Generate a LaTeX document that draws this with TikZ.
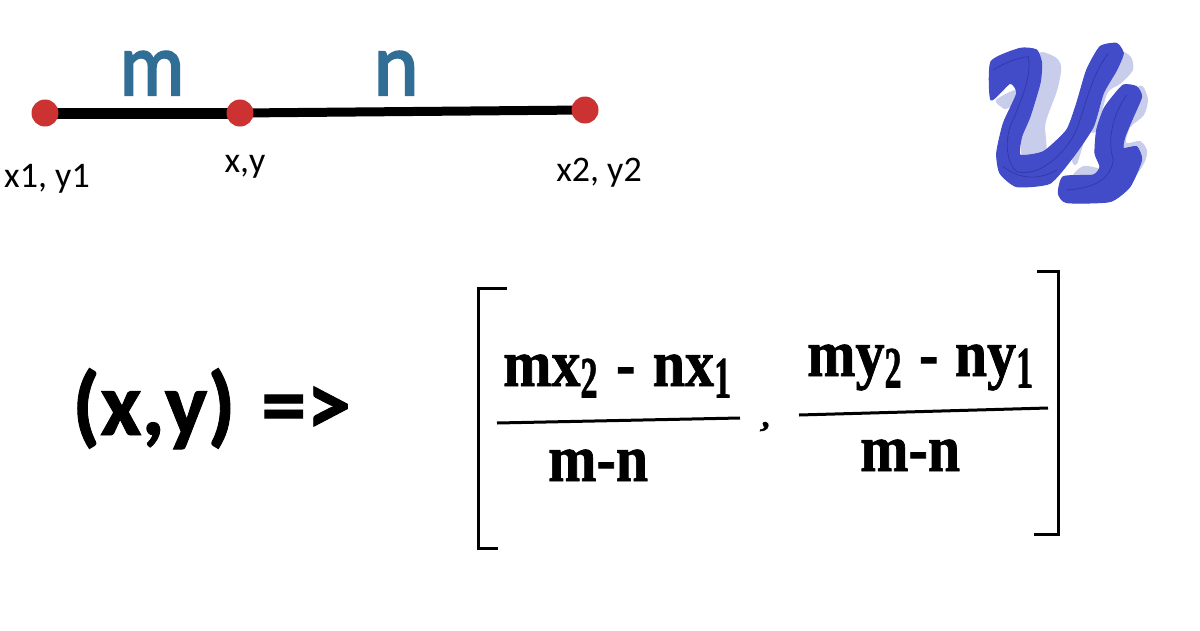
\documentclass[tikz,border=0pt]{standalone}
\usepackage{fontspec}
\usepackage{graphicx}
\setmainfont{Liberation Serif}
\newfontfamily\carl{Carlito}
\newfontfamily\carlheavy[FakeBold=2.5]{Carlito}
\newfontfamily\carlblack[FakeBold=1]{Carlito Bold}
\newfontfamily\serifheavy[FakeBold=1.2]{Liberation Serif Bold}
\definecolor{dotred}{RGB}{205,50,50}
\definecolor{inkblue}{RGB}{48,110,150}
\definecolor{usblue}{RGB}{66,76,200}
\definecolor{usdark}{RGB}{50,58,170}
\definecolor{usshade}{RGB}{200,205,235}
\newcommand{\fracfont}{\fontsize{58}{58}\selectfont\serifheavy}
\newcommand{\subd}[1]{\raisebox{-10pt}{\scalebox{1}[1.5]{\fontsize{34}{34}\selectfont\serifheavy #1}}}
\newcommand{\ftext}[1]{\scalebox{1}[1.15]{\fracfont #1}}
\tikzset{
  dot/.style={circle,fill=dotred,draw=none,minimum size=27pt,inner sep=0pt},
  seg/.style={line width=#1,draw=black},
  lbl/.style={inner sep=0pt,anchor=base,font=\carl\fontsize{36}{36}\selectfont},
  hand/.style={inner sep=0pt,anchor=base,text=inkblue},
  ftxt/.style={inner sep=0pt,anchor=base west},
  rulef/.style={line width=3pt,black},
  brack/.style={line width=3pt,black,miter limit=10},
  usmain/.style={fill=usblue,draw=usblue,line width=1pt,line join=round},
  usshadow/.style={fill=usshade,draw=usshade,line width=1pt,line join=round},
  usstreak/.style={draw=usdark,line width=0.8pt,line cap=round}
}
\begin{document}
\begin{tikzpicture}[x=1pt,y=-1pt]
\useasboundingbox (0,0) rectangle (1200,630);
\fill[white] (0,0) rectangle (1200,630);
% line and points
\coordinate (ca) at (45,113);
\coordinate (cb) at (240,113);
\coordinate (cc) at (585,110);
\draw[seg=11pt] (ca) -- (cb);
\draw[seg=9pt] (cb) -- (cc);
\node[dot] (p1) at (ca) {};
\node[dot] (p) at (cb) {};
\node[dot] (p2) at (cc) {};
\node[lbl] (l1) at (47,187) {x1, y1};
\node[lbl] (l) at (245,172) {x,y};
\node[lbl] (l2) at (599,181) {x2, y2};
% hand letters
\node[hand] (hm) at (152,95) {\scalebox{0.9}[1]{\carlheavy\fontsize{90}{90}\selectfont m}};
\node[hand] (hn) at (396,95) {\scalebox{0.95}[1]{\carlheavy\fontsize{90}{90}\selectfont n}};
% left formula
\node[inner sep=0pt,anchor=base west] (lhs) at (72,435) {\carlblack\fontsize{90}{90}\selectfont (x,y)\hspace{26pt}=>};
% fractions
\node[ftxt] (n1) at (503,386) {\ftext{mx\subd{2}\hspace{4pt} - \hspace{3pt}nx\subd{1}}};
\node[ftxt] (d1) at (548,481) {\ftext{m-n}};
\node[ftxt] (n2) at (807,376) {\ftext{my\subd{2}\hspace{3pt} - \hspace{2pt}ny\subd{1}}};
\node[ftxt] (d2) at (860,471) {\ftext{m-n}};
\node[inner sep=0pt,anchor=base,rotate=-15] (cm) at (765,427) {\fontsize{34}{34}\selectfont\serifheavy ,};
\coordinate (r1a) at (497,423);
\coordinate (r1b) at (740,418);
\coordinate (r2a) at (799,415);
\coordinate (r2b) at (1048,408);
\draw[rulef] (r1a) -- (r1b);
\draw[rulef] (r2a) -- (r2b);
% brackets
\draw[brack] (507,288) -- (478,288) -- (478,548) -- (498,548);
\draw[brack] (1037,271) -- (1058,271) -- (1058,534) -- (1034,534);
% Us logo
\begin{scope}[shift={(960,20)},x=0.3333pt,y=-0.3333pt]
\fill[usshadow] plot[smooth cycle,tension=0.5] coordinates {(230,110)(280,110)(302,140)(290,210)(255,310)(255,395)(190,408)(185,350)(210,290)};
\fill[usshadow] plot[smooth cycle,tension=0.5] coordinates {(110,240)(170,210)(170,240)(140,265)(125,260)};
\fill[usshadow] plot[smooth cycle,tension=0.5] coordinates {(470,110)(510,110)(517,150)(480,190)(440,220)(410,330)(380,340)(350,430)(340,410)(400,300)};
\fill[usshadow] plot[smooth cycle,tension=0.5] coordinates {(530,210)(562,235)(550,285)(510,320)(497,370)(540,365)(560,395)(545,440)(500,490)(440,480)};
\fill[usshadow] plot[smooth cycle,tension=0.5] coordinates {(340,470)(370,440)(420,450)(400,475)};
\fill[usmain] plot[smooth cycle,tension=0.35] coordinates {(93,125)(180,85)(230,90)(245,130)(240,190)(210,290)(185,350)(180,405)(250,395)(320,330)(350,250)(380,150)(420,80)(470,70)(490,100)(470,150)(430,220)(400,320)(340,410)(270,490)(170,500)(120,460)(110,400)(130,310)(170,220)(150,190)(93,240)};
\fill[usmain] plot[smooth cycle,tension=0.35] coordinates {(450,240)(490,195)(530,200)(545,230)(520,290)(495,350)(490,385)(530,380)(545,420)(510,500)(450,545)(320,548)(295,520)(310,470)(400,465)(420,440)(405,400)(410,330)(430,270)};
\draw[usstreak] (100,150) .. controls (140,125) and (170,115) .. (205,110);
\draw[usstreak] (205,110) .. controls (215,170) and (185,240) .. (150,320) .. controls (135,370) and (140,430) .. (170,455) .. controls (230,470) and (300,420) .. (345,340) .. controls (375,270) and (390,170) .. (445,100);
\draw[usstreak] (130,440) .. controls (180,480) and (240,480) .. (290,450);
\draw[usstreak] (500,225) .. controls (460,280) and (440,360) .. (460,420) .. controls (450,480) and (400,505) .. (320,510);
\end{scope}
\end{tikzpicture}
\end{document}
